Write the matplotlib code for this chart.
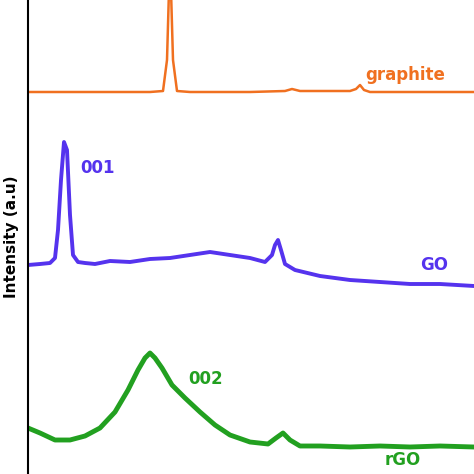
import matplotlib
matplotlib.use("Agg")
import matplotlib.pyplot as plt

# graphite (orange)
g_x = [28, 100, 150, 163, 167, 169, 171, 173, 177, 190, 250, 285, 292, 300, 350, 356, 360, 364, 370, 420, 474]
g_y = [92, 92, 92, 91, 60, -10, -10, 60, 91, 92, 92, 91, 89, 91, 91, 89, 85, 90, 92, 92, 92]
# GO (blue)
b_x = [28, 40, 50, 55, 58, 61, 64, 67, 70, 73, 78, 85, 95, 110, 130, 150, 170, 190, 210, 230, 250, 265, 272, 275, 278, 281, 285, 295, 320, 350, 380, 410, 440, 474]
b_y = [265, 264, 263, 258, 230, 180, 142, 150, 215, 255, 262, 263, 264, 261, 262, 259, 258, 255, 252, 255, 258, 262, 255, 245, 240, 250, 264, 270, 276, 280, 282, 284, 284, 286]
# rGO (green)
r_x = [28, 40, 55, 70, 85, 100, 115, 128, 138, 145, 150, 155, 162, 172, 185, 200, 215, 230, 250, 268, 276, 283, 290, 300, 320, 350, 380, 410, 440, 474]
r_y = [428, 433, 440, 440, 436, 428, 412, 390, 370, 358, 353, 358, 368, 385, 398, 412, 425, 435, 442, 444, 438, 433, 440, 446, 446, 447, 446, 447, 446, 447]

fig = plt.figure(figsize=(4.74, 4.74), dpi=100)
ax = fig.add_axes([28/474, 0, 1 - 28/474, 1])
ax.set_xlim(28, 474)
ax.set_ylim(474, 0)
ax.plot(g_x, g_y, color="#f07020", lw=1.8)
ax.plot(b_x, b_y, color="#5533ee", lw=2.8)
ax.plot(r_x, r_y, color="#22a020", lw=3.5)
for s in ["top", "right", "bottom"]:
    ax.spines[s].set_visible(False)
ax.spines["left"].set_linewidth(1.5)
ax.set_xticks([]); ax.set_yticks([])
kw = dict(fontsize=12, fontweight="bold")
ax.text(365, 80, "graphite", color="#f07020", **kw)
ax.text(80, 173, "001", color="#5533ee", **kw)
ax.text(420, 270, "GO", color="#5533ee", **kw)
ax.text(188, 384, "002", color="#22a020", **kw)
ax.text(385, 465, "rGO", color="#22a020", **kw)
fig.text(12/474, 0.5, "Intensity (a.u)", rotation=90, ha="center", va="center", fontsize=11, fontweight="bold")
fig.savefig("out.png", dpi=100)
